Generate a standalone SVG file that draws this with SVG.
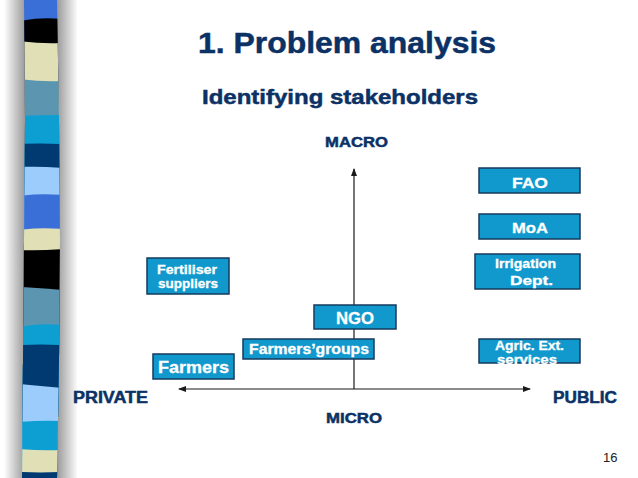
<svg xmlns="http://www.w3.org/2000/svg" width="638" height="478" viewBox="0 0 638 478">
<style>
.t{font-family:"Liberation Sans",Arial,sans-serif;font-weight:bold;fill:#0b3165;stroke:#0b3165;stroke-width:0.5}
.bx{fill:#1198cc;stroke:#163a5e;stroke-width:1.5}
.bt{font-family:"Liberation Sans",Arial,sans-serif;font-weight:bold;fill:#ffffff;stroke:#ffffff;stroke-width:0.3}
.ax{stroke:#1a1a1a;stroke-width:1.2;fill:none}
</style>
<defs>
<linearGradient id="shL" x1="0" y1="0" x2="1" y2="0">
<stop offset="0" stop-color="#ffffff"/>
<stop offset="1" stop-color="#9a9a9a"/>
</linearGradient>
<linearGradient id="shR" x1="0" y1="0" x2="1" y2="0">
<stop offset="0" stop-color="#9a9a9a"/>
<stop offset="1" stop-color="#ffffff"/>
</linearGradient>
<clipPath id="stripClip">
<path d="M24,0 L57,0 L59,120 L60,240 L59,360 L57,478 L22,478 L23,360 L24,240 L25,120 Z"/>
</clipPath>
<marker id="ah" markerWidth="8" markerHeight="6" refX="7" refY="3" orient="auto" markerUnits="userSpaceOnUse">
<path d="M0,0 L8,3 L0,6 Z" fill="#1a1a1a"/>
</marker>
</defs>
<rect width="638" height="478" fill="#ffffff"/>
<g id="strip">
<rect x="4" y="0" width="21" height="478" fill="url(#shL)"/>
<rect x="57" y="0" width="21" height="478" fill="url(#shR)"/>
<g clip-path="url(#stripClip)">
<rect x="0" y="0" width="80" height="478" fill="#3a6fd8"/>
<path d="M20,21 Q40,17 62,19 L62,478 L20,478 Z" fill="#000000"/>
<path d="M20,41 Q40,44 62,43 L62,478 L20,478 Z" fill="#e0dfb6"/>
<path d="M20,79 Q40,82 62,81 L62,478 L20,478 Z" fill="#5b95b0"/>
<path d="M20,116 Q40,115 62,115 L62,478 L20,478 Z" fill="#0e9fd2"/>
<path d="M20,144 Q40,143 62,144 L62,478 L20,478 Z" fill="#003a70"/>
<path d="M20,167 Q40,166 62,168 L62,478 L20,478 Z" fill="#9cccfc"/>
<path d="M20,196 Q40,193 62,195 L62,478 L20,478 Z" fill="#3a6fd8"/>
<path d="M20,230 Q40,227 62,229 L62,478 L20,478 Z" fill="#e0dfb6"/>
<path d="M20,250 Q40,251 62,249 L62,478 L20,478 Z" fill="#000000"/>
<path d="M20,287 Q40,288 62,290 L62,478 L20,478 Z" fill="#5b95b0"/>
<path d="M20,327 Q40,323 62,325 L62,478 L20,478 Z" fill="#0e9fd2"/>
<path d="M20,345 Q40,344 62,345 L62,478 L20,478 Z" fill="#003a70"/>
<path d="M20,384 Q40,386 62,388 L62,478 L20,478 Z" fill="#9cccfc"/>
<path d="M20,422 Q40,420 62,421 L62,478 L20,478 Z" fill="#0e9fd2"/>
<path d="M20,449 Q40,451 62,450 L62,478 L20,478 Z" fill="#e0dfb6"/>
<path d="M20,472 Q40,473 62,472 L62,478 L20,478 Z" fill="#003a70"/>
</g>
</g>
<g id="titles">
<text class="t" x="198" y="53" font-size="30" textLength="298" lengthAdjust="spacingAndGlyphs">1. Problem analysis</text>
<text class="t" x="202" y="104" font-size="21" textLength="276" lengthAdjust="spacingAndGlyphs">Identifying stakeholders</text>
</g>
<g id="connectors">
<line class="ax" x1="354" y1="389" x2="354" y2="169" marker-end="url(#ah)"/>
<line class="ax" x1="354" y1="389" x2="179" y2="389" marker-end="url(#ah)"/>
<line class="ax" x1="354" y1="389" x2="530" y2="389" marker-end="url(#ah)"/>
</g>
<g id="axis-labels">
<text class="t" x="325" y="147" font-size="15" textLength="63" lengthAdjust="spacingAndGlyphs">MACRO</text>
<text class="t" x="326" y="423" font-size="15" textLength="56" lengthAdjust="spacingAndGlyphs">MICRO</text>
<text class="t" x="73" y="403" font-size="16" textLength="75" lengthAdjust="spacingAndGlyphs">PRIVATE</text>
<text class="t" x="553" y="403" font-size="16" textLength="64" lengthAdjust="spacingAndGlyphs">PUBLIC</text>
</g>
<g id="node-fao">
<rect class="bx" x="479" y="168" width="101" height="25"/>
<text class="bt" x="512" y="188" font-size="15" textLength="36" lengthAdjust="spacingAndGlyphs">FAO</text>
</g>
<g id="node-moa">
<rect class="bx" x="479" y="214" width="101" height="25"/>
<text class="bt" x="512" y="233" font-size="15" textLength="36" lengthAdjust="spacingAndGlyphs">MoA</text>
</g>
<g id="node-irrigation">
<rect class="bx" x="475" y="254" width="105" height="35"/>
<text class="bt" x="495" y="268" font-size="13" textLength="61" lengthAdjust="spacingAndGlyphs">Irrigation</text>
<text class="bt" x="510" y="285" font-size="13" textLength="43" lengthAdjust="spacingAndGlyphs">Dept.</text>
</g>
<g id="node-fertiliser">
<rect class="bx" x="147" y="258" width="82" height="36"/>
<text class="bt" x="157" y="274" font-size="13" textLength="60" lengthAdjust="spacingAndGlyphs">Fertiliser</text>
<text class="bt" x="158" y="288" font-size="13" textLength="60" lengthAdjust="spacingAndGlyphs">suppliers</text>
</g>
<g id="node-ngo">
<rect class="bx" x="314" y="305" width="82" height="24"/>
<text class="bt" x="336" y="324" font-size="16" textLength="38" lengthAdjust="spacingAndGlyphs">NGO</text>
</g>
<g id="node-farmersgroups">
<rect class="bx" x="243" y="339" width="131" height="20"/>
<text class="bt" x="249" y="354" font-size="14" textLength="120" lengthAdjust="spacingAndGlyphs">Farmers’groups</text>
</g>
<g id="node-farmers">
<rect class="bx" x="153" y="354" width="81" height="25"/>
<text class="bt" x="158" y="373" font-size="16" textLength="71" lengthAdjust="spacingAndGlyphs">Farmers</text>
</g>
<g id="node-agric">
<rect class="bx" x="479" y="339" width="101" height="24"/>
<text class="bt" x="495" y="350" font-size="13" textLength="69" lengthAdjust="spacingAndGlyphs">Agric. Ext.</text>
<text class="bt" x="497" y="364" font-size="13" textLength="60" lengthAdjust="spacingAndGlyphs">services</text>
</g>
<g id="page-number">
<text x="603" y="462" font-family="Liberation Sans, Arial, sans-serif" font-size="13" fill="#222222">16</text>
</g>
</svg>
